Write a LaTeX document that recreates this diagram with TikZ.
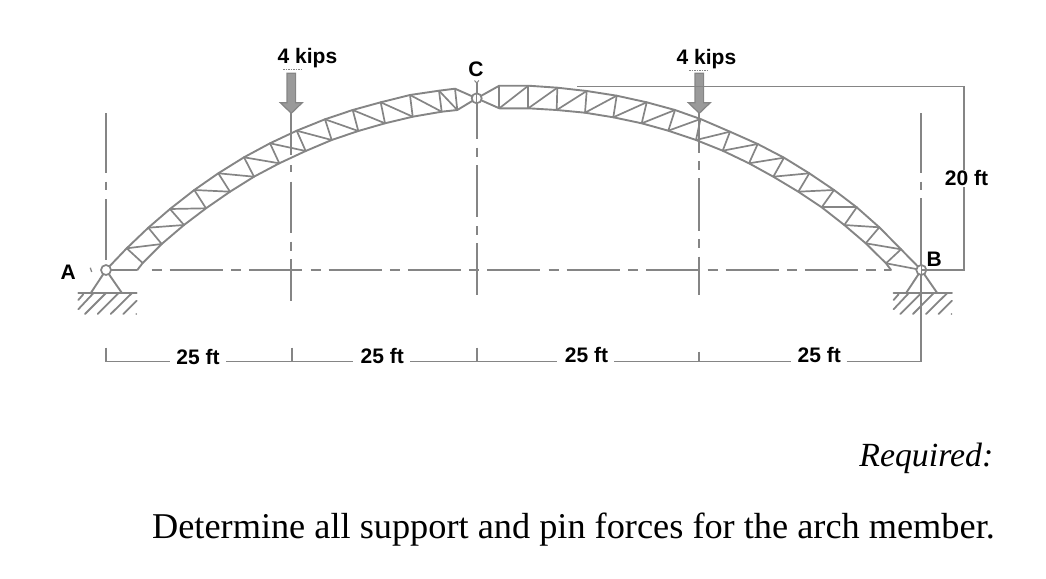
\documentclass[tikz,border=0pt]{standalone}
\usepackage{fontspec}
\setmainfont{Liberation Serif}
\newfontfamily\lblfont{Liberation Sans}
\definecolor{lin}{HTML}{858585}
\definecolor{arr}{HTML}{9A9A9A}
\tikzset{
  member/.style={draw=lin,line width=1.9pt,line join=round,line cap=round},
  axis/.style={draw=lin,line width=1.9pt},
  dimn/.style={draw=lin,line width=1.9pt},
  pinnode/.style={circle,draw=lin,line width=1.7pt,fill=white,minimum size=10pt,inner sep=0pt},
  lbl/.style={font=\lblfont\bfseries\fontsize{21}{21}\selectfont,text=black,anchor=base,inner sep=0pt},
  body/.style={text=black,inner sep=0pt,anchor=base east},
  load/.style={draw=lin,fill=arr,line width=1.2pt,line join=miter},
}
\begin{document}
\begin{tikzpicture}[x=1pt,y=-1pt]
\useasboundingbox (0,0) rectangle (1046,578);
% panel points
\foreach \x/\y [count=\i] in {106/270,126.7/248.3,148.3/227.7,170/209,194.3/190,218.3/173.3,244/157.3,270/143.3,296.7/130.7,325/119.3,352.7/110,380.7/102.3,410/95,439/90.7,455/88.7,476.7/98.3}
  \coordinate (LT\i) at (\x,\y);
\foreach \x/\y [count=\i] in {137.3/270,142.7/263,161.7/244,184/225,206/208.3,230/191.7,254/176.7,279.3/163.3,305.7/151,331.7/140,358.3/131,385/123.3,412.7/116.7,441.7/111.7,457.3/110,476.7/98.3}
  \coordinate (LB\i) at (\x,\y);
\foreach \x/\y [count=\i] in {476.7/98.3,499.3/85.7,528.3/85.7,557.3/87.7,586.7/91,616.7/95.7,646.7/102.3,675/110,700.5/119,730/131.7,757.7/144,784/157.7,809.3/173.3,834/190,856.7/207.3,879.3/227.3,901/249.3,921.3/270}
  \coordinate (RT\i) at (\x,\y);
\foreach \x/\y [count=\i] in {476.7/98.3,499.3/108.3,528.3/108.3,556.7/110,585/112.7,613.3/117.3,641.7/123.3,668.3/130.7,696/140,722.7/150.7,749/163.3,773.3/176.7,798.3/191.7,821.7/207.3,844.3/225,865.7/243.3,886/263.3,891/270}
  \coordinate (RB\i) at (\x,\y);
% centre lines
\draw[axis] (106,113.3)--(106,173.3) (106,181.7)--(106,190) (106,199.3)--(106,260);
\draw[axis] (291.3,113)--(291.3,155) (291.3,165)--(291.3,171.7) (291.3,181.7)--(291.3,232.7) (291.3,241.7)--(291.3,250.7) (291.3,259.3)--(291.3,300.7);
\draw[axis] (476.7,83)--(476.7,139.3) (476.7,147.7)--(476.7,156.7) (476.7,165)--(476.7,217.3) (476.7,226)--(476.7,235) (476.7,243.3)--(476.7,295);
\draw[axis] (699,113)--(699,152.7) (699,161)--(699,170) (699,178.3)--(699,230.7) (699,239.3)--(699,248.3) (699,256.7)--(699,295);
\draw[axis] (921.3,113.3)--(921.3,173.3) (921.3,181.7)--(921.3,190) (921.3,198.3)--(921.3,361.5);
\draw[axis] (106,270)--(137.3,270);
\draw[axis,dash pattern=on 10pt off 8pt on 53pt off 8.4pt] (151.7,270)--(891,270);
% arch
\draw[member] (LT1) \foreach \i in {2,...,16}{--(LT\i)};
\draw[member] (LB1) \foreach \i in {2,...,16}{--(LB\i)};
\draw[member] (RT1) \foreach \i in {2,...,18}{--(RT\i)};
\draw[member] (RB1) \foreach \i in {2,...,18}{--(RB\i)};
\foreach \i in {2,...,15}{\draw[member,line width=1.7pt] (LT\i)--(LB\i);}
\foreach \i [evaluate=\i as \j using int(\i+1)] in {2,...,14}{\draw[member,line width=1.7pt] (LT\i)--(LB\j);}
\foreach \i in {2,...,17}{\draw[member,line width=1.7pt] (RT\i)--(RB\i);}
\foreach \i [evaluate=\i as \j using int(\i+1)] in {2,...,17}{\draw[member,line width=1.7pt] (RB\i)--(RT\j);}
% supports
\foreach \s/\d in {A/0,B/815.3}{
  \begin{scope}[xshift=\d pt]
    \coordinate (\s p) at (106,270);
    \coordinate (\s l) at (91,292.7);
    \coordinate (\s r) at (121.7,292.7);
    \coordinate (\s g) at (78.3,292.7);
    \coordinate (\s h) at (136.7,292.7);
    \draw[member] (\s l)--(\s p)--(\s r);
    \draw[member] (\s g)--(\s h);
    \draw[member,line width=1.8pt] (83.3,294.3)--(78.3,300) (93.3,293.3)--(78.3,309.3) (105.7,293.3)--(85,314) (118.3,293.3)--(97.7,314) (131.7,293.3)--(110.7,314) (136.7,300.7)--(123.3,314);
    \fill[lin] (136.2,314) circle (0.9pt);
  \end{scope}}
\draw[axis,line width=1.3pt] (90.3,267.7)--(91.7,272);
% pins
\node[pinnode] (A) at (106,270) {};
\node[pinnode] (C) at (476.7,98.3) {};
\node[pinnode] (B) at (921.3,270) {};
\draw[axis,line width=1.2pt] (476.7,92)--(476.7,105);
\draw[axis,line width=1.2pt] (921.3,264)--(921.3,276);
\draw[lin,line width=1pt] (474.5,80.5)--(476.7,83)--(478.9,80.5);
% loads
\coordinate (L1) at (291.3,113.3);
\coordinate (L2) at (699.3,113.3);
\foreach \c in {L1,L2}{
 \draw[load] (\c) ++(-4.3,-40)--++(8.6,0)--++(0,29.4)--++(6.7,0)--(\c)--++(-11,-10.6)--++(6.7,0)--cycle;
}
\draw[lin,line width=1.3pt,dash pattern=on 1.5pt off 1pt] (283,69.5)--(303,69.5);
\draw[lin,line width=1.3pt,dash pattern=on 1.5pt off 1pt] (689,70.5)--(709,70.5);
% dimension lines
\coordinate (d0) at (106,361.5);
\coordinate (d1) at (291.6,361.5);
\coordinate (d2) at (476.7,361.5);
\coordinate (d3) at (699,361.5);
\coordinate (d4) at (921.3,361.5);
\draw[dimn] (105,361.5)--(170,361.5) (226,361.5)--(353.3,361.5) (410.3,361.5)--(556.7,361.5) (614.3,361.5)--(790.7,361.5) (846.7,361.5)--(d4);
\draw[dimn] (106,347.7)--(d0) (291.6,347.7)--(d1) (476.7,347.7)--(d2) (699,351.7)--(d3);
\coordinate (h1) at (577,86.5);
\coordinate (h2) at (964,86.5);
\coordinate (h3) at (964,270);
\draw[dimn] (h1)--(h2)--(964,170) (964,187)--(h3)--(921.3,270);
% labels
\node[lbl] (l4a) at (307.5,63.3) {4 kips};
\node[lbl] (l4b) at (706.5,65) {4 kips};
\node[lbl] (lC) at (476,76) {C};
\node[lbl] (lA) at (68.3,279.3) {A};
\node[lbl] (lB) at (934.3,266.7) {B};
\node[lbl] (l20) at (966.5,185) {20 ft};
\node[lbl] (d1t) at (198,364) {25 ft};
\node[lbl] (d2t) at (382.3,363) {25 ft};
\node[lbl] (d3t) at (586.5,362) {25 ft};
\node[lbl] (d4t) at (819.2,362) {25 ft};
\node[body,font=\itshape\fontsize{33.8}{36}\selectfont] (req) at (993.5,466.7) {Required:};
\node[body,font=\fontsize{36.3}{36}\selectfont] (det) at (995,538.3) {Determine all support and pin forces for the arch member.};
\end{tikzpicture}
\end{document}
